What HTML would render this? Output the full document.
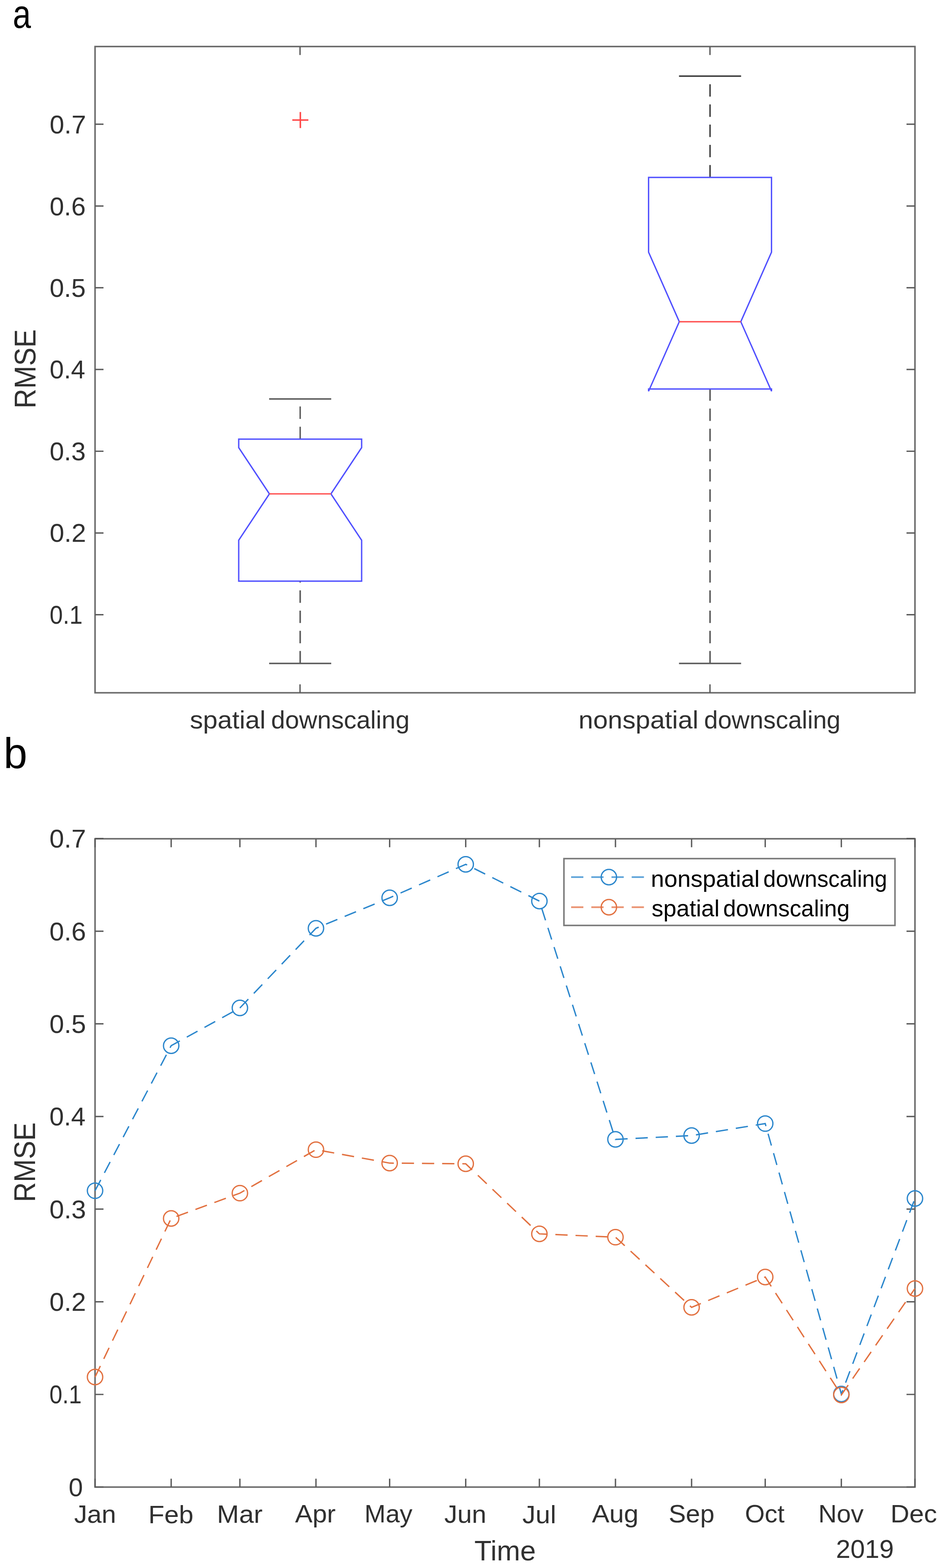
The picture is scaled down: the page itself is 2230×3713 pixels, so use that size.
<!DOCTYPE html>
<html><head><meta charset="utf-8"><title>RMSE figure</title>
<style>
html,body{margin:0;padding:0;background:#fff;}
svg{display:block;}
text{font-family:"Liberation Sans", sans-serif;}
</style></head>
<body>
<svg width="2230" height="3713" viewBox="0 0 2230 3713">
<rect width="2230" height="3713" fill="#fff"/>
<rect x="225.0" y="110.2" width="1941.0" height="1530.3" fill="none" stroke="#6a6a6a" stroke-width="3.6"/>
<path d="M225.0,1455.7h20M2166.0,1455.7h-20" stroke="#5a5a5a" stroke-width="3.2"/>
<text x="117.50" y="1477.29" font-size="61.00" fill="#303030" textLength="78.07" lengthAdjust="spacingAndGlyphs">0.1</text>
<path d="M225.0,1262.1h20M2166.0,1262.1h-20" stroke="#5a5a5a" stroke-width="3.2"/>
<text x="117.50" y="1283.35" font-size="61.00" fill="#303030" textLength="86.38" lengthAdjust="spacingAndGlyphs">0.2</text>
<path d="M225.0,1068.5h20M2166.0,1068.5h-20" stroke="#5a5a5a" stroke-width="3.2"/>
<text x="117.50" y="1089.91" font-size="61.00" fill="#303030" textLength="85.29" lengthAdjust="spacingAndGlyphs">0.3</text>
<path d="M225.0,874.9h20M2166.0,874.9h-20" stroke="#5a5a5a" stroke-width="3.2"/>
<text x="117.50" y="896.47" font-size="61.00" fill="#303030" textLength="84.28" lengthAdjust="spacingAndGlyphs">0.4</text>
<path d="M225.0,681.4h20M2166.0,681.4h-20" stroke="#5a5a5a" stroke-width="3.2"/>
<text x="117.50" y="703.03" font-size="61.00" fill="#303030" textLength="85.30" lengthAdjust="spacingAndGlyphs">0.5</text>
<path d="M225.0,487.8h20M2166.0,487.8h-20" stroke="#5a5a5a" stroke-width="3.2"/>
<text x="117.50" y="509.59" font-size="61.00" fill="#303030" textLength="85.29" lengthAdjust="spacingAndGlyphs">0.6</text>
<path d="M225.0,294.2h20M2166.0,294.2h-20" stroke="#5a5a5a" stroke-width="3.2"/>
<text x="117.50" y="316.15" font-size="61.00" fill="#303030" textLength="86.38" lengthAdjust="spacingAndGlyphs">0.7</text>
<path d="M710.25,1640.5v-20M710.25,110.2v20" stroke="#5a5a5a" stroke-width="3.2"/>
<path d="M1680.75,1640.5v-20M1680.75,110.2v20" stroke="#5a5a5a" stroke-width="3.2"/>
<text y="1725.00" font-size="58.50" fill="#303030"><tspan x="449.40" textLength="179.42" lengthAdjust="spacingAndGlyphs">spatial</tspan> <tspan x="641.80" textLength="327.71" lengthAdjust="spacingAndGlyphs">downscaling</tspan></text>
<text y="1725.00" font-size="58.50" fill="#303030"><tspan x="1369.60" textLength="283.79" lengthAdjust="spacingAndGlyphs">nonspatial</tspan> <tspan x="1666.80" textLength="322.90" lengthAdjust="spacingAndGlyphs">downscaling</tspan></text>
<text transform="translate(83.60 873.45) rotate(-90)" x="0" y="0" text-anchor="middle" font-size="70.50" fill="#303030" textLength="187.49" lengthAdjust="spacingAndGlyphs">RMSE</text>
<text x="30.20" y="66.45" font-size="94.27" fill="#000" textLength="42.95" lengthAdjust="spacingAndGlyphs">a</text>
<line x1="710.6" y1="1039.8" x2="710.6" y2="944.8" stroke="#5a5a5a" stroke-width="3.4" stroke-dasharray="29.4 18.45"/>
<line x1="710.6" y1="1571.0" x2="710.6" y2="1376.2" stroke="#5a5a5a" stroke-width="3.6" stroke-dasharray="29.4 18.45"/>
<path d="M637.1,944.8H784.1" stroke="#5a5a5a" stroke-width="3.4"/>
<path d="M637.1,1571.0H784.1" stroke="#5a5a5a" stroke-width="3.6"/>
<polygon points="565.1,1376.2 565.1,1279.3 637.8,1169.5 565.1,1060.0 565.1,1039.8 856.1,1039.8 856.1,1060.0 783.4,1169.5 856.1,1279.3 856.1,1376.2" fill="none" stroke="#5050ff" stroke-width="3.2" stroke-linejoin="miter"/>
<line x1="637.8000000000001" y1="1169.5" x2="783.4" y2="1169.5" stroke="#ff4d4d" stroke-width="3.2"/>
<line x1="1680.9" y1="420.2" x2="1680.9" y2="180.2" stroke="#3a3a3a" stroke-width="3.4" stroke-dasharray="29.4 18.45"/>
<line x1="1680.9" y1="1571.0" x2="1680.9" y2="921.1" stroke="#5a5a5a" stroke-width="3.6" stroke-dasharray="29.4 18.45"/>
<path d="M1607.4,180.2H1754.4" stroke="#3a3a3a" stroke-width="3.4"/>
<path d="M1607.4,1571.0H1754.4" stroke="#5a5a5a" stroke-width="3.6"/>
<polygon points="1535.4,921.1 1535.4,926.4 1608.1,761.8 1535.4,597.2 1535.4,420.2 1826.4,420.2 1826.4,597.2 1753.7,761.8 1826.4,926.4 1826.4,921.1" fill="none" stroke="#5050ff" stroke-width="3.2" stroke-linejoin="miter"/>
<line x1="1608.1000000000001" y1="761.8" x2="1753.7" y2="761.8" stroke="#ff4d4d" stroke-width="3.2"/>
<path d="M692.0,284.2H730.0M711.0,265.2V303.2" stroke="#ff4848" stroke-width="3.6" fill="none"/>
<rect x="225.0" y="1986.2" width="1941.0" height="1535.2" fill="none" stroke="#6a6a6a" stroke-width="3.6"/>
<path d="M225.0,3521.4h20M2166.0,3521.4h-20" stroke="#5a5a5a" stroke-width="3.2"/>
<text x="162.40" y="3543.00" font-size="61.00" fill="#303030" textLength="33.81" lengthAdjust="spacingAndGlyphs">0</text>
<path d="M225.0,3302.0h20M2166.0,3302.0h-20" stroke="#5a5a5a" stroke-width="3.2"/>
<text x="117.00" y="3323.38" font-size="61.00" fill="#303030" textLength="76.44" lengthAdjust="spacingAndGlyphs">0.1</text>
<path d="M225.0,3082.6h20M2166.0,3082.6h-20" stroke="#5a5a5a" stroke-width="3.2"/>
<text x="117.00" y="3104.36" font-size="61.00" fill="#303030" textLength="86.65" lengthAdjust="spacingAndGlyphs">0.2</text>
<path d="M225.0,2863.2h20M2166.0,2863.2h-20" stroke="#5a5a5a" stroke-width="3.2"/>
<text x="117.00" y="2884.84" font-size="61.00" fill="#303030" textLength="86.65" lengthAdjust="spacingAndGlyphs">0.3</text>
<path d="M225.0,2643.8h20M2166.0,2643.8h-20" stroke="#5a5a5a" stroke-width="3.2"/>
<text x="117.00" y="2665.32" font-size="61.00" fill="#303030" textLength="85.60" lengthAdjust="spacingAndGlyphs">0.4</text>
<path d="M225.0,2424.4h20M2166.0,2424.4h-20" stroke="#5a5a5a" stroke-width="3.2"/>
<text x="117.00" y="2445.80" font-size="61.00" fill="#303030" textLength="86.65" lengthAdjust="spacingAndGlyphs">0.5</text>
<path d="M225.0,2205.1h20M2166.0,2205.1h-20" stroke="#5a5a5a" stroke-width="3.2"/>
<text x="117.00" y="2226.78" font-size="61.00" fill="#303030" textLength="86.65" lengthAdjust="spacingAndGlyphs">0.6</text>
<path d="M225.0,1985.7h20M2166.0,1985.7h-20" stroke="#5a5a5a" stroke-width="3.2"/>
<text x="117.00" y="2007.26" font-size="61.00" fill="#303030" textLength="86.65" lengthAdjust="spacingAndGlyphs">0.7</text>
<path d="M225.0,3521.4v-20M225.0,1986.2v20" stroke="#5a5a5a" stroke-width="3.2"/>
<text x="175.40" y="3605.50" font-size="60.00" fill="#303030" textLength="99.45" lengthAdjust="spacingAndGlyphs">Jan</text>
<path d="M405.2,3521.4v-20M405.2,1986.2v20" stroke="#5a5a5a" stroke-width="3.2"/>
<text x="351.20" y="3606.50" font-size="60.00" fill="#303030" textLength="106.70" lengthAdjust="spacingAndGlyphs">Feb</text>
<path d="M567.9,3521.4v-20M567.9,1986.2v20" stroke="#5a5a5a" stroke-width="3.2"/>
<text x="513.60" y="3605.50" font-size="60.00" fill="#303030" textLength="108.12" lengthAdjust="spacingAndGlyphs">Mar</text>
<path d="M748.0,3521.4v-20M748.0,1986.2v20" stroke="#5a5a5a" stroke-width="3.2"/>
<text x="698.40" y="3605.30" font-size="60.00" fill="#303030" textLength="96.28" lengthAdjust="spacingAndGlyphs">Apr</text>
<path d="M922.4,3521.4v-20M922.4,1986.2v20" stroke="#5a5a5a" stroke-width="3.2"/>
<text x="862.80" y="3605.30" font-size="60.00" fill="#303030" textLength="113.66" lengthAdjust="spacingAndGlyphs">May</text>
<path d="M1102.5,3521.4v-20M1102.5,1986.2v20" stroke="#5a5a5a" stroke-width="3.2"/>
<text x="1051.80" y="3605.50" font-size="60.00" fill="#303030" textLength="99.54" lengthAdjust="spacingAndGlyphs">Jun</text>
<path d="M1276.9,3521.4v-20M1276.9,1986.2v20" stroke="#5a5a5a" stroke-width="3.2"/>
<text x="1236.60" y="3606.50" font-size="60.00" fill="#303030" textLength="79.97" lengthAdjust="spacingAndGlyphs">Jul</text>
<path d="M1457.0,3521.4v-20M1457.0,1986.2v20" stroke="#5a5a5a" stroke-width="3.2"/>
<text x="1401.20" y="3605.30" font-size="60.00" fill="#303030" textLength="110.46" lengthAdjust="spacingAndGlyphs">Aug</text>
<path d="M1637.2,3521.4v-20M1637.2,1986.2v20" stroke="#5a5a5a" stroke-width="3.2"/>
<text x="1583.00" y="3604.80" font-size="60.00" fill="#303030" textLength="108.31" lengthAdjust="spacingAndGlyphs">Sep</text>
<path d="M1811.5,3521.4v-20M1811.5,1986.2v20" stroke="#5a5a5a" stroke-width="3.2"/>
<text x="1763.40" y="3605.00" font-size="60.00" fill="#303030" textLength="93.87" lengthAdjust="spacingAndGlyphs">Oct</text>
<path d="M1991.7,3521.4v-20M1991.7,1986.2v20" stroke="#5a5a5a" stroke-width="3.2"/>
<text x="1937.20" y="3605.00" font-size="60.00" fill="#303030" textLength="107.35" lengthAdjust="spacingAndGlyphs">Nov</text>
<path d="M2166.0,3521.4v-20M2166.0,1986.2v20" stroke="#5a5a5a" stroke-width="3.2"/>
<text x="2108.00" y="3605.00" font-size="60.00" fill="#303030" textLength="110.29" lengthAdjust="spacingAndGlyphs">Dec</text>
<text x="1123.00" y="3694.75" font-size="67.50" fill="#303030" textLength="145.53" lengthAdjust="spacingAndGlyphs">Time</text>
<text x="1979.10" y="3689.35" font-size="61.00" fill="#303030" textLength="136.91" lengthAdjust="spacingAndGlyphs">2019</text>
<text transform="translate(83.00 2752.05) rotate(-90)" x="0" y="0" text-anchor="middle" font-size="70.50" fill="#303030" textLength="188.75" lengthAdjust="spacingAndGlyphs">RMSE</text>
<text x="8.60" y="1819.45" font-size="102.04" fill="#000" textLength="56.08" lengthAdjust="spacingAndGlyphs">b</text>
<polyline points="225.0,2819.6 405.2,2476.2 567.9,2386.8 748.0,2198.2 922.4,2126.0 1102.5,2046.7 1276.9,2133.8 1457.0,2698.0 1637.2,2689.0 1811.5,2660.6 1991.7,3301.0 2166.0,2838.0" fill="none" stroke="#2a86cc" stroke-width="3.2" stroke-dasharray="29 18.78"/>
<circle cx="225.0" cy="2819.6" r="18.2" fill="none" stroke="#2a86cc" stroke-width="3"/>
<circle cx="405.2" cy="2476.2" r="18.2" fill="none" stroke="#2a86cc" stroke-width="3"/>
<circle cx="567.9" cy="2386.8" r="18.2" fill="none" stroke="#2a86cc" stroke-width="3"/>
<circle cx="748.0" cy="2198.2" r="18.2" fill="none" stroke="#2a86cc" stroke-width="3"/>
<circle cx="922.4" cy="2126.0" r="18.2" fill="none" stroke="#2a86cc" stroke-width="3"/>
<circle cx="1102.5" cy="2046.7" r="18.2" fill="none" stroke="#2a86cc" stroke-width="3"/>
<circle cx="1276.9" cy="2133.8" r="18.2" fill="none" stroke="#2a86cc" stroke-width="3"/>
<circle cx="1457.0" cy="2698.0" r="18.2" fill="none" stroke="#2a86cc" stroke-width="3"/>
<circle cx="1637.2" cy="2689.0" r="18.2" fill="none" stroke="#2a86cc" stroke-width="3"/>
<circle cx="1811.5" cy="2660.6" r="18.2" fill="none" stroke="#2a86cc" stroke-width="3"/>
<circle cx="1991.7" cy="3301.0" r="18.2" fill="none" stroke="#2a86cc" stroke-width="3"/>
<circle cx="2166.0" cy="2838.0" r="18.2" fill="none" stroke="#2a86cc" stroke-width="3"/>
<polyline points="225.0,3260.8 405.2,2885.2 567.9,2825.4 748.0,2722.4 922.4,2754.2 1102.5,2755.8 1276.9,2921.8 1457.0,2929.6 1637.2,3095.8 1811.5,3024.0 1991.7,3303.2 2166.0,3051.2" fill="none" stroke="#e2703f" stroke-width="3.2" stroke-dasharray="29 18.78"/>
<circle cx="225.0" cy="3260.8" r="18.2" fill="none" stroke="#e2703f" stroke-width="3"/>
<circle cx="405.2" cy="2885.2" r="18.2" fill="none" stroke="#e2703f" stroke-width="3"/>
<circle cx="567.9" cy="2825.4" r="18.2" fill="none" stroke="#e2703f" stroke-width="3"/>
<circle cx="748.0" cy="2722.4" r="18.2" fill="none" stroke="#e2703f" stroke-width="3"/>
<circle cx="922.4" cy="2754.2" r="18.2" fill="none" stroke="#e2703f" stroke-width="3"/>
<circle cx="1102.5" cy="2755.8" r="18.2" fill="none" stroke="#e2703f" stroke-width="3"/>
<circle cx="1276.9" cy="2921.8" r="18.2" fill="none" stroke="#e2703f" stroke-width="3"/>
<circle cx="1457.0" cy="2929.6" r="18.2" fill="none" stroke="#e2703f" stroke-width="3"/>
<circle cx="1637.2" cy="3095.8" r="18.2" fill="none" stroke="#e2703f" stroke-width="3"/>
<circle cx="1811.5" cy="3024.0" r="18.2" fill="none" stroke="#e2703f" stroke-width="3"/>
<circle cx="1991.7" cy="3303.2" r="18.2" fill="none" stroke="#e2703f" stroke-width="3"/>
<circle cx="2166.0" cy="3051.2" r="18.2" fill="none" stroke="#e2703f" stroke-width="3"/>
<rect x="1335" y="2033.2" width="783.6999999999998" height="158.20000000000005" fill="#fff" stroke="#7a7a7a" stroke-width="3.6"/>
<line x1="1352" y1="2077.0" x2="1526.5" y2="2077.0" stroke="#62a6da" stroke-width="4" stroke-dasharray="29 18.8"/>
<circle cx="1441.4" cy="2077.0" r="18.2" fill="none" stroke="#2a86cc" stroke-width="3"/>
<line x1="1352" y1="2148.2" x2="1526.5" y2="2148.2" stroke="#ea9270" stroke-width="4" stroke-dasharray="29 18.8"/>
<circle cx="1441.4" cy="2148.2" r="18.2" fill="none" stroke="#e2703f" stroke-width="3"/>
<text y="2099.55" font-size="55.00" fill="#000"><tspan x="1540.80" textLength="257.55" lengthAdjust="spacingAndGlyphs">nonspatial</tspan> <tspan x="1807.00" textLength="293.25" lengthAdjust="spacingAndGlyphs">downscaling</tspan></text>
<text y="2170.45" font-size="55.00" fill="#000"><tspan x="1542.40" textLength="161.04" lengthAdjust="spacingAndGlyphs">spatial</tspan> <tspan x="1712.00" textLength="299.67" lengthAdjust="spacingAndGlyphs">downscaling</tspan></text>
</svg>
</body></html>
